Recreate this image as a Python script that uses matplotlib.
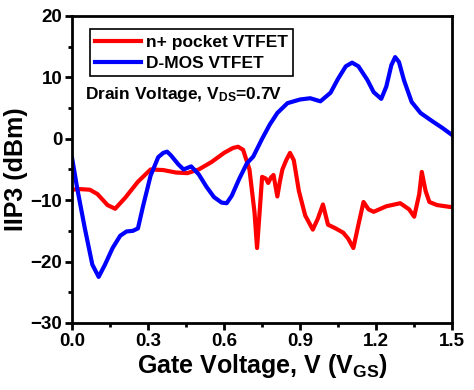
import matplotlib.pyplot as plt
import numpy as np

plt.rcParams['font.family'] = ['Liberation Sans', 'DejaVu Sans']
plt.rcParams['font.weight'] = 'bold'
plt.rcParams['mathtext.fontset'] = 'custom'
plt.rcParams['mathtext.rm'] = 'Liberation Sans:bold'
plt.rcParams['mathtext.it'] = 'Liberation Sans:bold'
plt.rcParams['mathtext.bf'] = 'Liberation Sans:bold'
plt.rcParams['mathtext.default'] = 'bf'

# n+ pocket VTFET
vgs_red = [0.0, 0.03, 0.07, 0.10, 0.14, 0.17, 0.21, 0.26, 0.31, 0.36, 0.41, 0.455,
           0.50, 0.55, 0.60, 0.635, 0.655, 0.675, 0.70, 0.72, 0.73, 0.74, 0.75, 0.765,
           0.774, 0.785, 0.795, 0.81, 0.82, 0.83, 0.845, 0.86, 0.875, 0.895, 0.92,
           0.95, 0.97, 0.99, 1.01, 1.04, 1.07, 1.09, 1.11, 1.13, 1.15, 1.17, 1.19,
           1.24, 1.295, 1.33, 1.35, 1.37, 1.38, 1.395, 1.41, 1.44, 1.49, 1.5]
iip3_red = [-8.3, -8.2, -8.3, -9.0, -10.8, -11.4, -9.6, -7.0, -5.0, -5.1, -5.5, -5.6,
            -5.0, -3.8, -2.3, -1.5, -1.3, -1.8, -5.0, -12.0, -17.8, -12.0, -6.2, -6.5,
            -7.2, -6.3, -5.9, -9.4, -7.0, -5.0, -3.5, -2.3, -3.5, -8.5, -12.5,
            -14.8, -13.0, -10.7, -14.0, -14.6, -15.3, -16.3, -17.8, -14.0, -10.3, -11.5, -11.9,
            -11.0, -10.5, -11.5, -12.7, -9.0, -5.4, -8.5, -10.3, -10.8, -11.1, -11.1]

# D-MOS VTFET
vgs_blue = [0.0, 0.02, 0.05, 0.08, 0.105, 0.13, 0.16, 0.19, 0.215, 0.24, 0.26, 0.28,
            0.31, 0.34, 0.36, 0.375, 0.39, 0.42, 0.44, 0.47, 0.50, 0.53, 0.56, 0.59,
            0.61, 0.63, 0.66, 0.69, 0.715, 0.75, 0.78, 0.81, 0.85, 0.90, 0.94, 0.98,
            1.02, 1.05, 1.08, 1.105, 1.13, 1.165, 1.19, 1.22, 1.24, 1.26, 1.275, 1.29,
            1.31, 1.34, 1.375, 1.42, 1.46, 1.5]
iip3_blue = [-3.1, -8.0, -14.5, -20.5, -22.5, -20.5, -17.8, -15.8, -15.1, -15.0, -14.6, -11.0,
             -6.0, -3.0, -2.3, -2.1, -2.7, -4.2, -5.0, -4.5, -5.8, -7.8, -9.5, -10.4,
             -10.5, -9.3, -6.5, -4.0, -2.9, 0.0, 2.3, 4.2, 5.8, 6.4, 6.6, 6.1,
             7.5, 9.8, 11.8, 12.4, 11.8, 9.6, 7.6, 6.5, 8.5, 12.0, 13.3, 12.5,
             9.5, 6.0, 4.2, 2.9, 1.8, 0.6]

xticks = [0.0, 0.3, 0.6, 0.9, 1.2, 1.5]
yticks = [-30, -20, -10, 0, 10, 20]

fig = plt.figure(figsize=(4.74, 3.9), dpi=100)
ax = fig.add_axes([0.152, 0.172, 0.802, 0.787])

ax.plot(vgs_red, iip3_red, color='#ff0000', lw=3.0, label='n+ pocket VTFET')
ax.plot(vgs_blue, iip3_blue, color='#0000ff', lw=3.0, label='D-MOS VTFET')

ax.set_xlim(0, 1.5)
ax.set_ylim(-30, 20)
ax.set_xticks(xticks)
ax.set_xticklabels([f'{t:.1f}' for t in xticks])
ax.set_yticks(yticks)
ax.set_xticks(np.arange(0.15, 1.5, 0.3), minor=True)
ax.set_yticks(np.arange(-25, 20, 10), minor=True)
ax.tick_params(which='major', direction='out', length=5, width=2, labelsize=13.5,
               pad=2, top=False, right=False)
ax.tick_params(which='minor', direction='out', length=3, width=2, top=False, right=False)
for s in ax.spines.values():
    s.set_linewidth(2)

ax.set_xlabel('Gate Voltage, V (V$_{GS}$)', fontsize=18, fontweight='bold', labelpad=2)
ax.set_ylabel('IIP3 (dBm)', fontsize=18, fontweight='bold', labelpad=2)

leg = ax.legend(loc='upper left', bbox_to_anchor=(0.025, 0.985), fontsize=12.5,
                handlelength=2.6, handletextpad=0.3, borderpad=0.3, labelspacing=0.35,
                fancybox=False, edgecolor='black', framealpha=1)
leg.get_frame().set_linewidth(1.2)

ax.text(0.035, 0.73, 'Drain Voltage, V$_{DS}$=0.7V', transform=ax.transAxes,
        fontsize=12.5, fontweight='bold')

fig.savefig('out.png', dpi=100)
